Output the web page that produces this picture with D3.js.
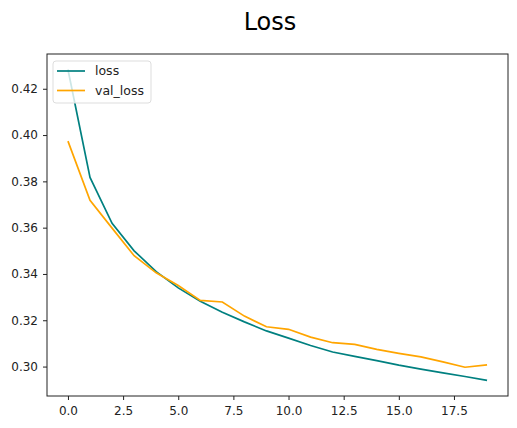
<!DOCTYPE html>
<html>
<head>
<meta charset="utf-8">
<script src="https://cdn.jsdelivr.net/npm/d3@7"></script>
<style>
  body { margin: 0; background: #fff; }
  svg text { font-family: "DejaVu Sans", sans-serif; }
  .tick text { font-size: 12px; fill: #222; }
</style>
</head>
<body>
<div id="graph"></div>
<script>
// epochs and the two histories
const epochs = d3.range(20);
const loss = [0.4283, 0.3817, 0.3619, 0.3500, 0.3410, 0.3340, 0.3282, 0.3235, 0.3193, 0.3154,
              0.3123, 0.3091, 0.3063, 0.3044, 0.3026, 0.3006, 0.2989, 0.2973, 0.2957, 0.2940];
const valLoss = [0.3974, 0.3718, 0.3598, 0.3479, 0.3405, 0.3350, 0.3286, 0.3279, 0.3218, 0.3172,
                 0.3161, 0.3127, 0.3103, 0.3096, 0.3074, 0.3057, 0.3042, 0.3020, 0.2997, 0.3007];
const xTicks = [0, 2.5, 5, 7.5, 10, 12.5, 15, 17.5];
const yTicks = [0.30, 0.32, 0.34, 0.36, 0.38, 0.40, 0.42];
const series = [
  {name: "loss", values: loss, color: "teal"},
  {name: "val_loss", values: valLoss, color: "orange"}
];

let margin = {top: 54, right: 9, bottom: 32, left: 47},
    width = 517 - margin.left - margin.right,
    height = 428 - margin.top - margin.bottom;

let svg = d3.select("#graph").append("svg")
    .attr("width", 517)
    .attr("height", 428);

// title
svg.append("text")
    .attr("x", 270)
    .attr("y", 30)
    .attr("text-anchor", "middle")
    .style("font-size", "24px")
    .text("Loss");

let g = svg.append("g")
    .attr("transform", "translate(" + margin.left + "," + margin.top + ")");

// matplotlib style 5% padding
let allY = loss.concat(valLoss);
let yMin = d3.min(allY), yMax = d3.max(allY), pad = (yMax - yMin) * 0.05;
let x = d3.scaleLinear().domain([-0.95, 19.95]).range([0, width]);
let y = d3.scaleLinear().domain([yMin - pad, yMax + pad]).range([height, 0]);

let line = d3.line()
    .x((d, i) => x(epochs[i]))
    .y(d => y(d));

series.forEach(s => {
  g.append("path")
      .datum(s.values)
      .attr("fill", "none")
      .attr("stroke", s.color)
      .attr("stroke-width", 1.7)
      .attr("d", line);
});

// axes
let xAxis = g.append("g")
    .attr("transform", "translate(0," + height + ")")
    .call(d3.axisBottom(x).tickValues(xTicks).tickFormat(d3.format(".1f")).tickSizeOuter(0).tickSize(4).tickPadding(6));
let yAxis = g.append("g")
    .call(d3.axisLeft(y).tickValues(yTicks).tickFormat(d3.format(".2f")).tickSizeOuter(0).tickSize(4).tickPadding(5));
[xAxis, yAxis].forEach(a => {
  a.select(".domain").remove();
  a.selectAll(".tick line").attr("stroke", "#222");
});

// frame
g.append("rect")
    .attr("width", width)
    .attr("height", height)
    .attr("fill", "none")
    .attr("stroke", "#222")
    .attr("stroke-width", 1);

// legend
let legend = g.append("g").attr("transform", "translate(6,7)");
legend.append("rect")
    .attr("width", 98)
    .attr("height", 42)
    .attr("rx", 3)
    .attr("fill", "white")
    .attr("fill-opacity", 0.8)
    .attr("stroke", "#ddd");
series.forEach((s, i) => {
  let row = legend.append("g").attr("transform", "translate(0," + (10 + i * 19.5) + ")");
  row.append("line")
      .attr("x1", 4).attr("x2", 32)
      .attr("stroke", s.color)
      .attr("stroke-width", 1.7);
  row.append("text")
      .attr("x", 42)
      .attr("dy", "0.35em")
      .style("font-size", "12.5px")
      .attr("fill", "#222")
      .text(s.name);
});
</script>
</body>
</html>
